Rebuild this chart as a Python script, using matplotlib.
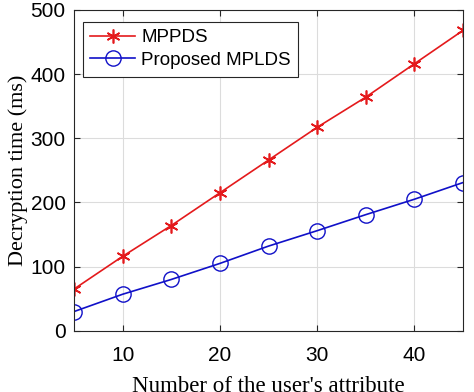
import matplotlib.pyplot as plt

attrs = [5, 10, 15, 20, 25, 30, 35, 40, 45]
mppds = [65, 116, 164, 215, 266, 317, 364, 416, 468]
mplds = [30, 57, 80, 105, 132, 156, 181, 205, 231]

fig = plt.figure(figsize=(4.74, 3.92), dpi=100)
ax = fig.add_axes([0.156, 0.156, 0.821, 0.819])

ax.plot(attrs, mppds, color='#e41a1c', marker=(6, 2, 0), markersize=10,
        linewidth=1.2, markeredgewidth=1.2, label='MPPDS')
ax.plot(attrs, mplds, color='#1010c8', marker='o', markersize=11, linewidth=1.2,
        markerfacecolor='none', markeredgewidth=1.0, label='Proposed MPLDS')

ax.set_xlim(5, 45)
ax.set_ylim(0, 500)
ax.set_xticks([10, 20, 30, 40])
ax.set_yticks([0, 100, 200, 300, 400, 500])
ax.grid(True, color='#dcdcdc', linewidth=0.8)
ax.tick_params(direction='in', top=True, right=True, labelsize=15, length=4,
               color='#262626')
ax.tick_params(axis='x', pad=11)
ax.tick_params(axis='y', pad=6)
for lab in ax.get_xticklabels() + ax.get_yticklabels():
    lab.set_family('Liberation Sans')
for s in ax.spines.values():
    s.set_color('#262626')
    s.set_linewidth(0.8)

ax.set_ylabel('Decryption time (ms)', family='Liberation Serif', fontsize=16,
              labelpad=2)
ax.set_xlabel("Number of the user's attribute", family='Liberation Serif',
              fontsize=16.5, labelpad=8)

leg = ax.legend(loc='upper left', bbox_to_anchor=(0.023, 0.963),
                prop={'family': 'Liberation Sans', 'size': 13.5},
                fancybox=False, edgecolor='#262626', framealpha=1,
                handlelength=2.4, handletextpad=0.3, borderaxespad=0,
                labelspacing=0.3, borderpad=0.4)
leg.get_frame().set_linewidth(0.8)

fig.savefig('out.png', dpi=100)
